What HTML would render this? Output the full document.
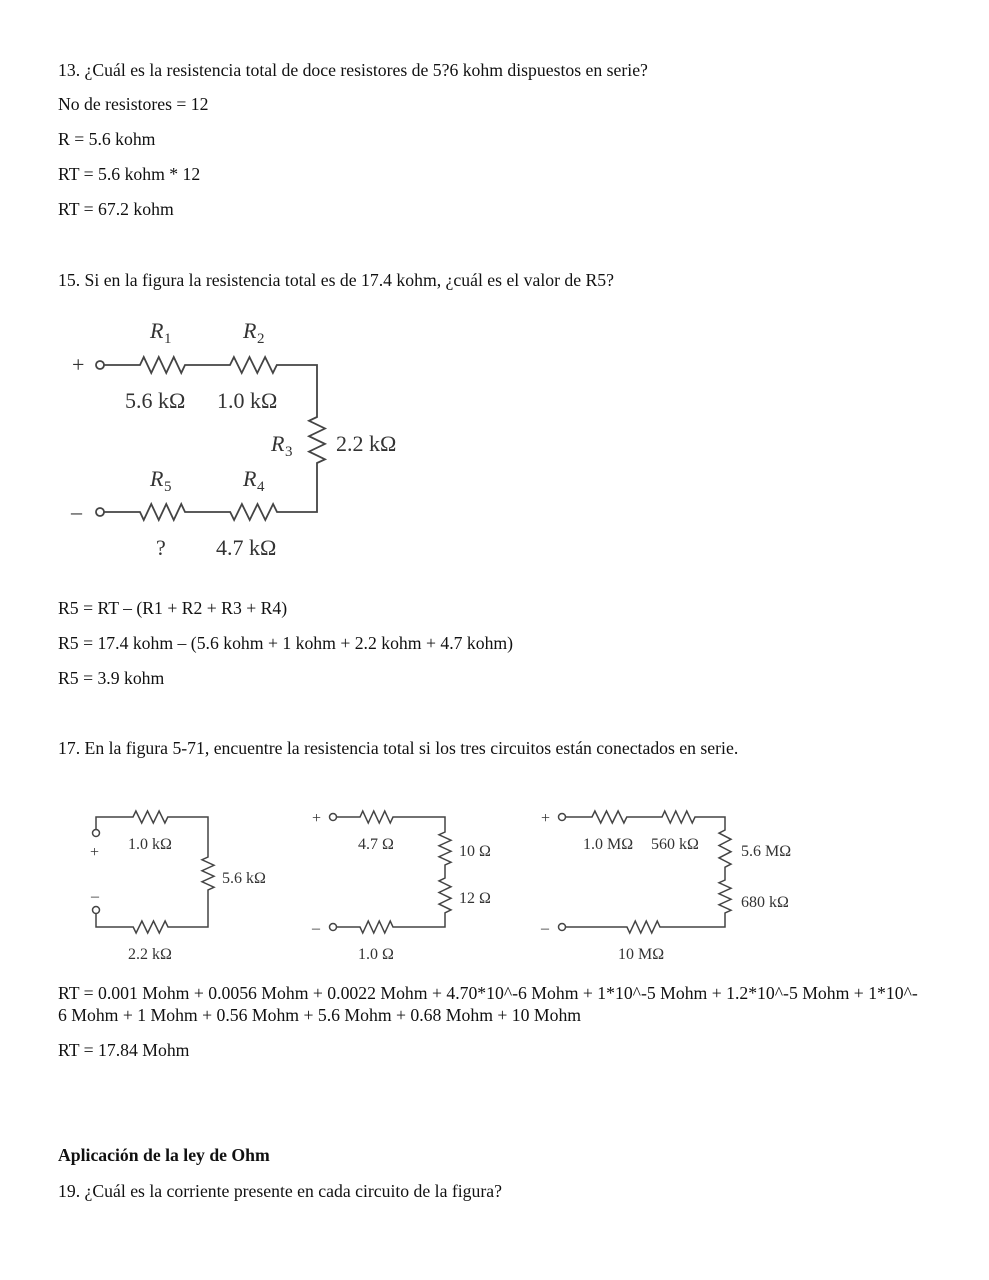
<!DOCTYPE html>
<html><head><meta charset="utf-8"><style>
body{margin:0;background:#fff;}
#p{position:relative;width:989px;height:1280px;overflow:hidden;font-family:"Liberation Serif",serif;color:#111;}
.t{position:absolute;left:58px;font-size:17.7px;white-space:nowrap;line-height:20px;}
svg{position:absolute;left:0;top:0;}
svg text{font-family:"Liberation Serif",serif;fill:#333;}
</style></head><body><div id="p">
<div class="t" style="top:60px">13. ¿Cuál es la resistencia total de doce resistores de 5?6 kohm dispuestos en serie?</div>
<div class="t" style="top:94px">No de resistores = 12</div>
<div class="t" style="top:129px">R = 5.6 kohm</div>
<div class="t" style="top:164px">RT = 5.6 kohm * 12</div>
<div class="t" style="top:199px">RT = 67.2 kohm</div>
<div class="t" style="top:270px">15. Si en la figura la resistencia total es de 17.4 kohm, ¿cuál es el valor de R5?</div>
<div class="t" style="top:598px">R5 = RT – (R1 + R2 + R3 + R4)</div>
<div class="t" style="top:633px">R5 = 17.4 kohm – (5.6 kohm + 1 kohm + 2.2 kohm + 4.7 kohm)</div>
<div class="t" style="top:668px">R5 = 3.9 kohm</div>
<div class="t" style="top:738px">17. En la figura 5-71, encuentre la resistencia total si los tres circuitos están conectados en serie.</div>
<div class="t" style="top:983px">RT = 0.001 Mohm + 0.0056 Mohm + 0.0022 Mohm + 4.70*10^-6 Mohm + 1*10^-5 Mohm + 1.2*10^-5 Mohm + 1*10^-</div>
<div class="t" style="top:1005px">6 Mohm + 1 Mohm + 0.56 Mohm + 5.6 Mohm + 0.68 Mohm + 10 Mohm</div>
<div class="t" style="top:1040px">RT = 17.84 Mohm</div>
<div class="t" style="top:1145px;font-weight:bold">Aplicación de la ley de Ohm</div>
<div class="t" style="top:1181px">19. ¿Cuál es la corriente presente en cada circuito de la figura?</div>

<svg width="989" height="1280" fill="none" stroke="#444" stroke-width="1.8">
<!-- Circuit 1 -->
<circle cx="100" cy="365" r="4"/>
<path d="M104 365 H140 l3.75 -8 l7.5 16 l7.5 -16 l7.5 16 l7.5 -16 l7.5 16 l3.75 -8 H230 l3.9 -8 l7.8 16 l7.8 -16 l7.8 16 l7.8 -16 l7.8 16 l3.9 -8 H317 V417 l-8 3.8 l16 7.7 l-16 7.7 l16 7.7 l-16 7.7 l16 7.7 l-8 3.7 V512 H277 l-3.9 -8 l-7.8 16 l-7.8 -16 l-7.8 16 l-7.8 -16 l-7.8 16 l-3.9 -8 H185 l-3.75 -8 l-7.5 16 l-7.5 -16 l-7.5 16 l-7.5 -16 l-7.5 16 l-3.75 -8 H104"/>
<circle cx="100" cy="512" r="4"/>
<g stroke="none" font-size="22">
<text x="72" y="372">+</text>
<text x="71" y="519">–</text>
<text x="150" y="338" font-style="italic">R</text><text x="164" y="343" font-size="15">1</text>
<text x="243" y="338" font-style="italic">R</text><text x="257" y="343" font-size="15">2</text>
<text x="125" y="408">5.6 kΩ</text><text x="217" y="408">1.0 kΩ</text>
<text x="271" y="451" font-style="italic">R</text><text x="285" y="456" font-size="15">3</text>
<text x="336" y="451">2.2 kΩ</text>
<text x="150" y="486" font-style="italic">R</text><text x="164" y="491" font-size="15">5</text>
<text x="243" y="486" font-style="italic">R</text><text x="257" y="491" font-size="15">4</text>
<text x="156" y="555">?</text><text x="216" y="555">4.7 kΩ</text>
</g>
<g stroke-width="1.5">
<path d="M96 829 V817 H133 l2.9 -6 l5.8 12 l5.8 -12 l5.8 12 l5.8 -12 l5.8 12 l2.9 -6 H208 V857 l-6 2.75 l12 5.5 l-12 5.5 l12 5.5 l-12 5.5 l12 5.5 l-6 2.75 V927 H168 l-2.9 -6 l-5.8 12 l-5.8 -12 l-5.8 12 l-5.8 -12 l-5.8 12 l-2.9 -6 H96 V914"/>
<circle cx="96" cy="833" r="3.5"/><circle cx="96" cy="910" r="3.5"/>
<circle cx="333" cy="817" r="3.5"/><circle cx="333" cy="927" r="3.5"/>
<path d="M337 817 H360 l2.75 -6 l5.5 12 l5.5 -12 l5.5 12 l5.5 -12 l5.5 12 l2.75 -6 H445 V832 l-6 2.75 l12 5.5 l-12 5.5 l12 5.5 l-12 5.5 l12 5.5 l-6 2.75 V878 l-6 2.9 l12 5.8 l-12 5.8 l12 5.8 l-12 5.8 l12 5.8 l-6 2.9 V927 H393 l-2.75 -6 l-5.5 12 l-5.5 -12 l-5.5 12 l-5.5 -12 l-5.5 12 l-2.75 -6 H337"/>
<circle cx="562" cy="817" r="3.5"/><circle cx="562" cy="927" r="3.5"/>
<path d="M566 817 H592 l2.9 -6 l5.8 12 l5.8 -12 l5.8 12 l5.8 -12 l5.8 12 l2.9 -6 H662 l2.75 -6 l5.5 12 l5.5 -12 l5.5 12 l5.5 -12 l5.5 12 l2.75 -6 H725 V830 l-6 3.1 l12 6.2 l-12 6.2 l12 6.2 l-12 6.2 l12 6.2 l-6 3.1 V880 l-6 2.75 l12 5.5 l-12 5.5 l12 5.5 l-12 5.5 l12 5.5 l-6 2.75 V927 H660 l-2.75 -6 l-5.5 12 l-5.5 -12 l-5.5 12 l-5.5 -12 l-5.5 12 l-2.75 -6 H566"/>
</g>
<g stroke="none" font-size="16">
<text x="90" y="857">+</text><text x="91" y="901">–</text>
<text x="128" y="849">1.0 kΩ</text><text x="222" y="883">5.6 kΩ</text><text x="128" y="959">2.2 kΩ</text>
<text x="312" y="823">+</text><text x="312" y="933">–</text>
<text x="358" y="849">4.7 Ω</text><text x="459" y="856">10 Ω</text><text x="459" y="903">12 Ω</text><text x="358" y="959">1.0 Ω</text>
<text x="541" y="823">+</text><text x="541" y="933">–</text>
<text x="583" y="849">1.0 MΩ</text><text x="651" y="849">560 kΩ</text><text x="741" y="856">5.6 MΩ</text><text x="741" y="907">680 kΩ</text><text x="618" y="959">10 MΩ</text>
</g>
</svg>
</div></body></html>
